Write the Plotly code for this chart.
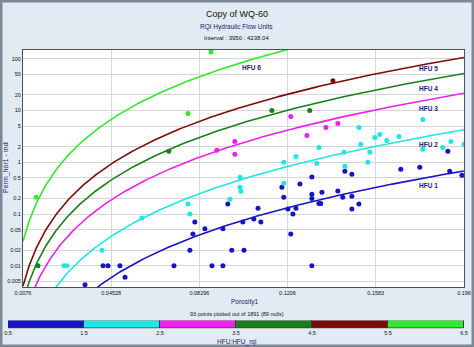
import numpy as np
import plotly.graph_objects as go

# ---- data -------------------------------------------------------------
hfu_names = ["HFU 1", "HFU 2", "HFU 3", "HFU 4", "HFU 5", "HFU 6"]
hfu_colors = ["#1414C8", "#1EE6E6", "#F01EF0", "#1A7F1A", "#7F0A0A", "#2EEB2E"]
# mean flow-zone indicator of each unit (iso-FZI lines)
hfu_fzi = [0.24, 0.60, 1.35, 2.10, 3.00, 8.10]

# porosity (fraction) / horizontal permeability (md) samples per unit
phi_hfu1 = [0.0341, 0.0418, 0.0439, 0.0490, 0.0512, 0.0721, 0.0789, 0.0802, 0.0810, 0.0853,
            0.0883, 0.0930, 0.0930, 0.0951, 0.0968, 0.1015, 0.1020, 0.1062, 0.1080, 0.1092,
            0.1182, 0.1190, 0.1208, 0.1220, 0.1229, 0.1242, 0.1259, 0.1310, 0.1310, 0.1310,
            0.1310, 0.1340, 0.1348, 0.1353, 0.1421, 0.1442, 0.1451, 0.1481, 0.1481, 0.1481,
            0.1511, 0.1690, 0.1771, 0.1891, 0.1899, 0.1951]
k_hfu1 = [0.0043, 0.01, 0.01, 0.01, 0.006, 0.01, 0.02, 0.041, 0.07, 0.052,
          0.01, 0.01, 0.052, 0.156, 0.02, 0.07, 0.02, 0.08, 0.13, 0.07,
          0.33, 0.21, 0.125, 0.041, 0.1, 0.13, 0.38, 0.52, 0.24, 0.20,
          0.01, 0.16, 0.16, 0.265, 0.28, 0.21, 0.67, 0.59, 0.22, 0.125,
          0.156, 0.73, 0.80, 1.63, 0.67, 0.56]

phi_hfu2 = [0.0251, 0.0264, 0.0413, 0.0584, 0.0781, 0.0789, 0.0960, 0.1003, 0.1003, 0.1007,
            0.1190, 0.1190, 0.1242, 0.1331, 0.1340, 0.1447, 0.1451, 0.1511, 0.1519, 0.1549,
            0.1558, 0.1579, 0.1600, 0.1630, 0.1682, 0.1784, 0.1784, 0.1869, 0.1904, 0.1960]
k_hfu2 = [0.01, 0.01, 0.02, 0.084, 0.156, 0.1, 0.194, 0.515, 0.33, 0.277,
          1.0, 0.395, 1.30, 0.957, 1.94, 1.56, 0.838, 4.71, 2.22, 1.0,
          1.56, 3.03, 3.45, 2.65, 3.16, 6.71, 1.78, 1.94, 2.53, 2.22]

phi_hfu3 = [0.0981, 0.0904, 0.0981, 0.1220, 0.1289, 0.1370, 0.1421]
k_hfu3 = [2.53, 1.70, 1.43, 7.67, 3.31, 4.71, 5.62]

phi_hfu4 = [0.0140, 0.0699, 0.1139, 0.1301]
k_hfu4 = [0.01, 1.63, 10.0, 10.0]

phi_hfu5 = [0.1400]
k_hfu5 = [37.8]

phi_hfu6 = [0.0132, 0.0781, 0.0879]
k_hfu6 = [0.212, 8.75, 136.0]

phi_samples = [phi_hfu1, phi_hfu2, phi_hfu3, phi_hfu4, phi_hfu5, phi_hfu6]
k_samples = [k_hfu1, k_hfu2, k_hfu3, k_hfu4, k_hfu5, k_hfu6]

# axis ticks
x_ticks = [0.0076, 0.04528, 0.08296, 0.1206, 0.1583, 0.196]
x_ticktext = ["0.0076", "0.04528", "0.08296", "0.1206", "0.1583", "0.196"]
y_ticks = [0.005, 0.01, 0.02, 0.05, 0.1, 0.2, 0.5, 1, 2, 5, 10, 20, 50, 100]
y_ticktext = ["0.005", "0.01", "0.02", "0.05", "0.1", "0.2", "0.5", "1", "2", "5", "10", "20", "50", "100"]

# colour-strip legend (HFU:HFU_rqi)
strip_codes = [1, 2, 3, 4, 5, 6]
strip_ticks = [0.5, 1.5, 2.5, 3.5, 4.5, 5.5, 6.5]

# label anchor points for each iso-FZI line
label_x = [0.181, 0.181, 0.181, 0.181, 0.181, 0.1054]
label_k = [0.36, 2.25, 11.0, 26.3, 64.6, 67.6]

FONT = "Liberation Sans Narrow, Arial Narrow, Arial, sans-serif"
NAVY = "#20207A"

fig = go.Figure()

# iso-FZI lines: k = 1014 * FZI^2 * phi^3 / (1 - phi)^2
phi_grid = np.linspace(x_ticks[0], x_ticks[-1], 400)
for name, col, fzi in zip(hfu_names, hfu_colors, hfu_fzi):
    k_line = 1014.0 * fzi ** 2 * phi_grid ** 3 / (1.0 - phi_grid) ** 2
    fig.add_trace(go.Scatter(x=phi_grid, y=k_line, mode="lines",
                             line=dict(color=col, width=1.6),
                             showlegend=False, hoverinfo="skip",
                             xaxis="x", yaxis="y"))

# sample points coloured by unit
for name, col, px_, k_ in zip(hfu_names, hfu_colors, phi_samples, k_samples):
    fig.add_trace(go.Scatter(x=px_, y=k_, mode="markers", name=name,
                             marker=dict(color=col, size=5,
                                         line=dict(color=col, width=0)),
                             showlegend=False, xaxis="x", yaxis="y"))

# colour strip
fig.add_trace(go.Bar(x=strip_codes, y=[1] * len(strip_codes), width=[1] * len(strip_codes),
                     marker=dict(color=hfu_colors, line=dict(color="#3A3A3A", width=1)),
                     showlegend=False, hoverinfo="skip", xaxis="x2", yaxis="y2"))

W, H = 474, 347
ML, MR, MT, MB = 8, 10, 50, 0
PW, PH = W - ML - MR, H - MT - MB


def px_x(p):
    return (p - ML) / PW


def px_y(p):
    return (H - MB - p) / PH


annotations = []
for name, lx, lk in zip(hfu_names, label_x, label_k):
    annotations.append(dict(x=lx, y=np.log10(lk), xref="x", yref="y", text="<b>%s</b>" % name,
                            showarrow=False, xanchor="center", yanchor="middle",
                            font=dict(family=FONT, size=6.5, color=NAVY)))

annotations += [
    dict(x=px_x(237), y=px_y(14), text="Copy of WQ-60",
         font=dict(family=FONT, size=9, color="#111111")),
    dict(x=px_x(237), y=px_y(27), text="RQI Hydraulic Flow Units",
         font=dict(family=FONT, size=6.5, color=NAVY)),
    dict(x=px_x(237), y=px_y(38), text="Interval : 3950 : 4238.04",
         font=dict(family=FONT, size=6, color="#111111")),
    dict(x=px_x(244), y=px_y(302), text="Porosity1",
         font=dict(family=FONT, size=6.5, color=NAVY)),
    dict(x=px_x(237), y=px_y(313.5), text="93 points plotted out of 1891 (89 nulls)",
         font=dict(family=FONT, size=5.5, color="#111111")),
    dict(x=px_x(237), y=px_y(342), text="HFU:HFU_rqi",
         font=dict(family=FONT, size=6.5, color=NAVY)),
    dict(x=px_x(6), y=px_y(168), text="Perm_hor1 - md", textangle=-90,
         font=dict(family=FONT, size=7, color=NAVY)),
]
for a in annotations[len(hfu_names):]:
    a.update(xref="paper", yref="paper", showarrow=False,
             xanchor="center", yanchor="middle")

fig.update_layout(
    width=W, height=H,
    margin=dict(l=ML, r=MR, t=MT, b=MB),
    paper_bgcolor="#E2EAF3",
    plot_bgcolor="white",
    showlegend=False,
    annotations=annotations,
    xaxis=dict(domain=[px_x(23), px_x(464)], range=[x_ticks[0], x_ticks[-1]],
               tickvals=x_ticks, ticktext=x_ticktext, showgrid=True,
               gridcolor="#D6D6D6", gridwidth=1, zeroline=False,
               showline=True, linecolor="#505050", linewidth=1, mirror=True,
               tickfont=dict(family=FONT, size=5.5, color="#111111"), anchor="y"),
    yaxis=dict(domain=[px_y(287), px_y(50)], type="log", range=[-2.41, 2.17],
               tickvals=y_ticks, ticktext=y_ticktext, showgrid=True,
               gridcolor="#D6D6D6", gridwidth=1, zeroline=False,
               showline=True, linecolor="#505050", linewidth=1, mirror=True,
               tickfont=dict(family=FONT, size=5.5, color="#111111"), anchor="x"),
    xaxis2=dict(domain=[px_x(8), px_x(464)], range=[0.5, 6.5], tickvals=strip_ticks,
                ticktext=[str(t) for t in strip_ticks], showgrid=False, zeroline=False,
                showline=False, tickfont=dict(family=FONT, size=5.5, color="#111111"),
                anchor="y2", ticklen=0),
    yaxis2=dict(domain=[px_y(328.5), px_y(320.5)], range=[0, 1], showgrid=False,
                zeroline=False, showticklabels=False, anchor="x2"),
    bargap=0,
    shapes=[dict(type="rect", xref="paper", yref="paper",
                 x0=px_x(0), x1=px_x(W), y0=px_y(H), y1=px_y(0),
                 line=dict(color="#7C8894", width=5), layer="above")],
)

fig.write_html("out.html")
